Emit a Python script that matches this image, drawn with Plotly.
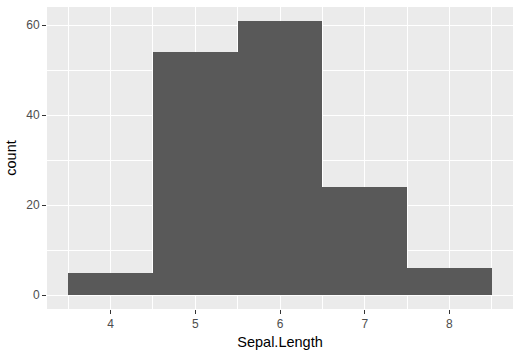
import plotly.graph_objects as go

bin_centers = [4, 5, 6, 7, 8]
counts = [5, 54, 61, 24, 6]
x_ticks = [4, 5, 6, 7, 8]
y_ticks = [0, 20, 40, 60]

fig = go.Figure(go.Bar(x=bin_centers, y=counts, width=1, marker=dict(color="#595959", line=dict(width=0))))

fig.update_layout(
    width=521, height=356,
    margin=dict(l=47, r=8, t=7, b=47),
    paper_bgcolor="white", plot_bgcolor="#EBEBEB",
    font=dict(family="Liberation Sans, Arial, sans-serif", color="#4D4D4D", size=12),
    bargap=0, showlegend=False,
)
fig.update_xaxes(
    range=[3.25, 8.75], tickvals=x_ticks, ticktext=[str(v) for v in x_ticks],
    showgrid=True, gridcolor="white", gridwidth=1.1, zeroline=False,
    ticks="outside", ticklen=4, tickcolor="#333333", tickwidth=1,
    minor=dict(tick0=3.5, dtick=1, showgrid=True, gridcolor="white", gridwidth=0.5, ticks=""),
    title=dict(text="Sepal.Length", font=dict(color="black", size=14.5), standoff=6),
    tickfont=dict(size=12, color="#4D4D4D"),
)
fig.update_yaxes(
    range=[-3.05, 64.05], tickvals=y_ticks, ticktext=[str(v) for v in y_ticks],
    showgrid=True, gridcolor="white", gridwidth=1.1, zeroline=False,
    ticks="outside", ticklen=4, tickcolor="#333333", tickwidth=1,
    minor=dict(tick0=10, dtick=20, showgrid=True, gridcolor="white", gridwidth=0.5, ticks=""),
    title=dict(text="count", font=dict(color="black", size=14.5), standoff=6),
    tickfont=dict(size=12, color="#4D4D4D"),
)
fig.write_html("out.html")
